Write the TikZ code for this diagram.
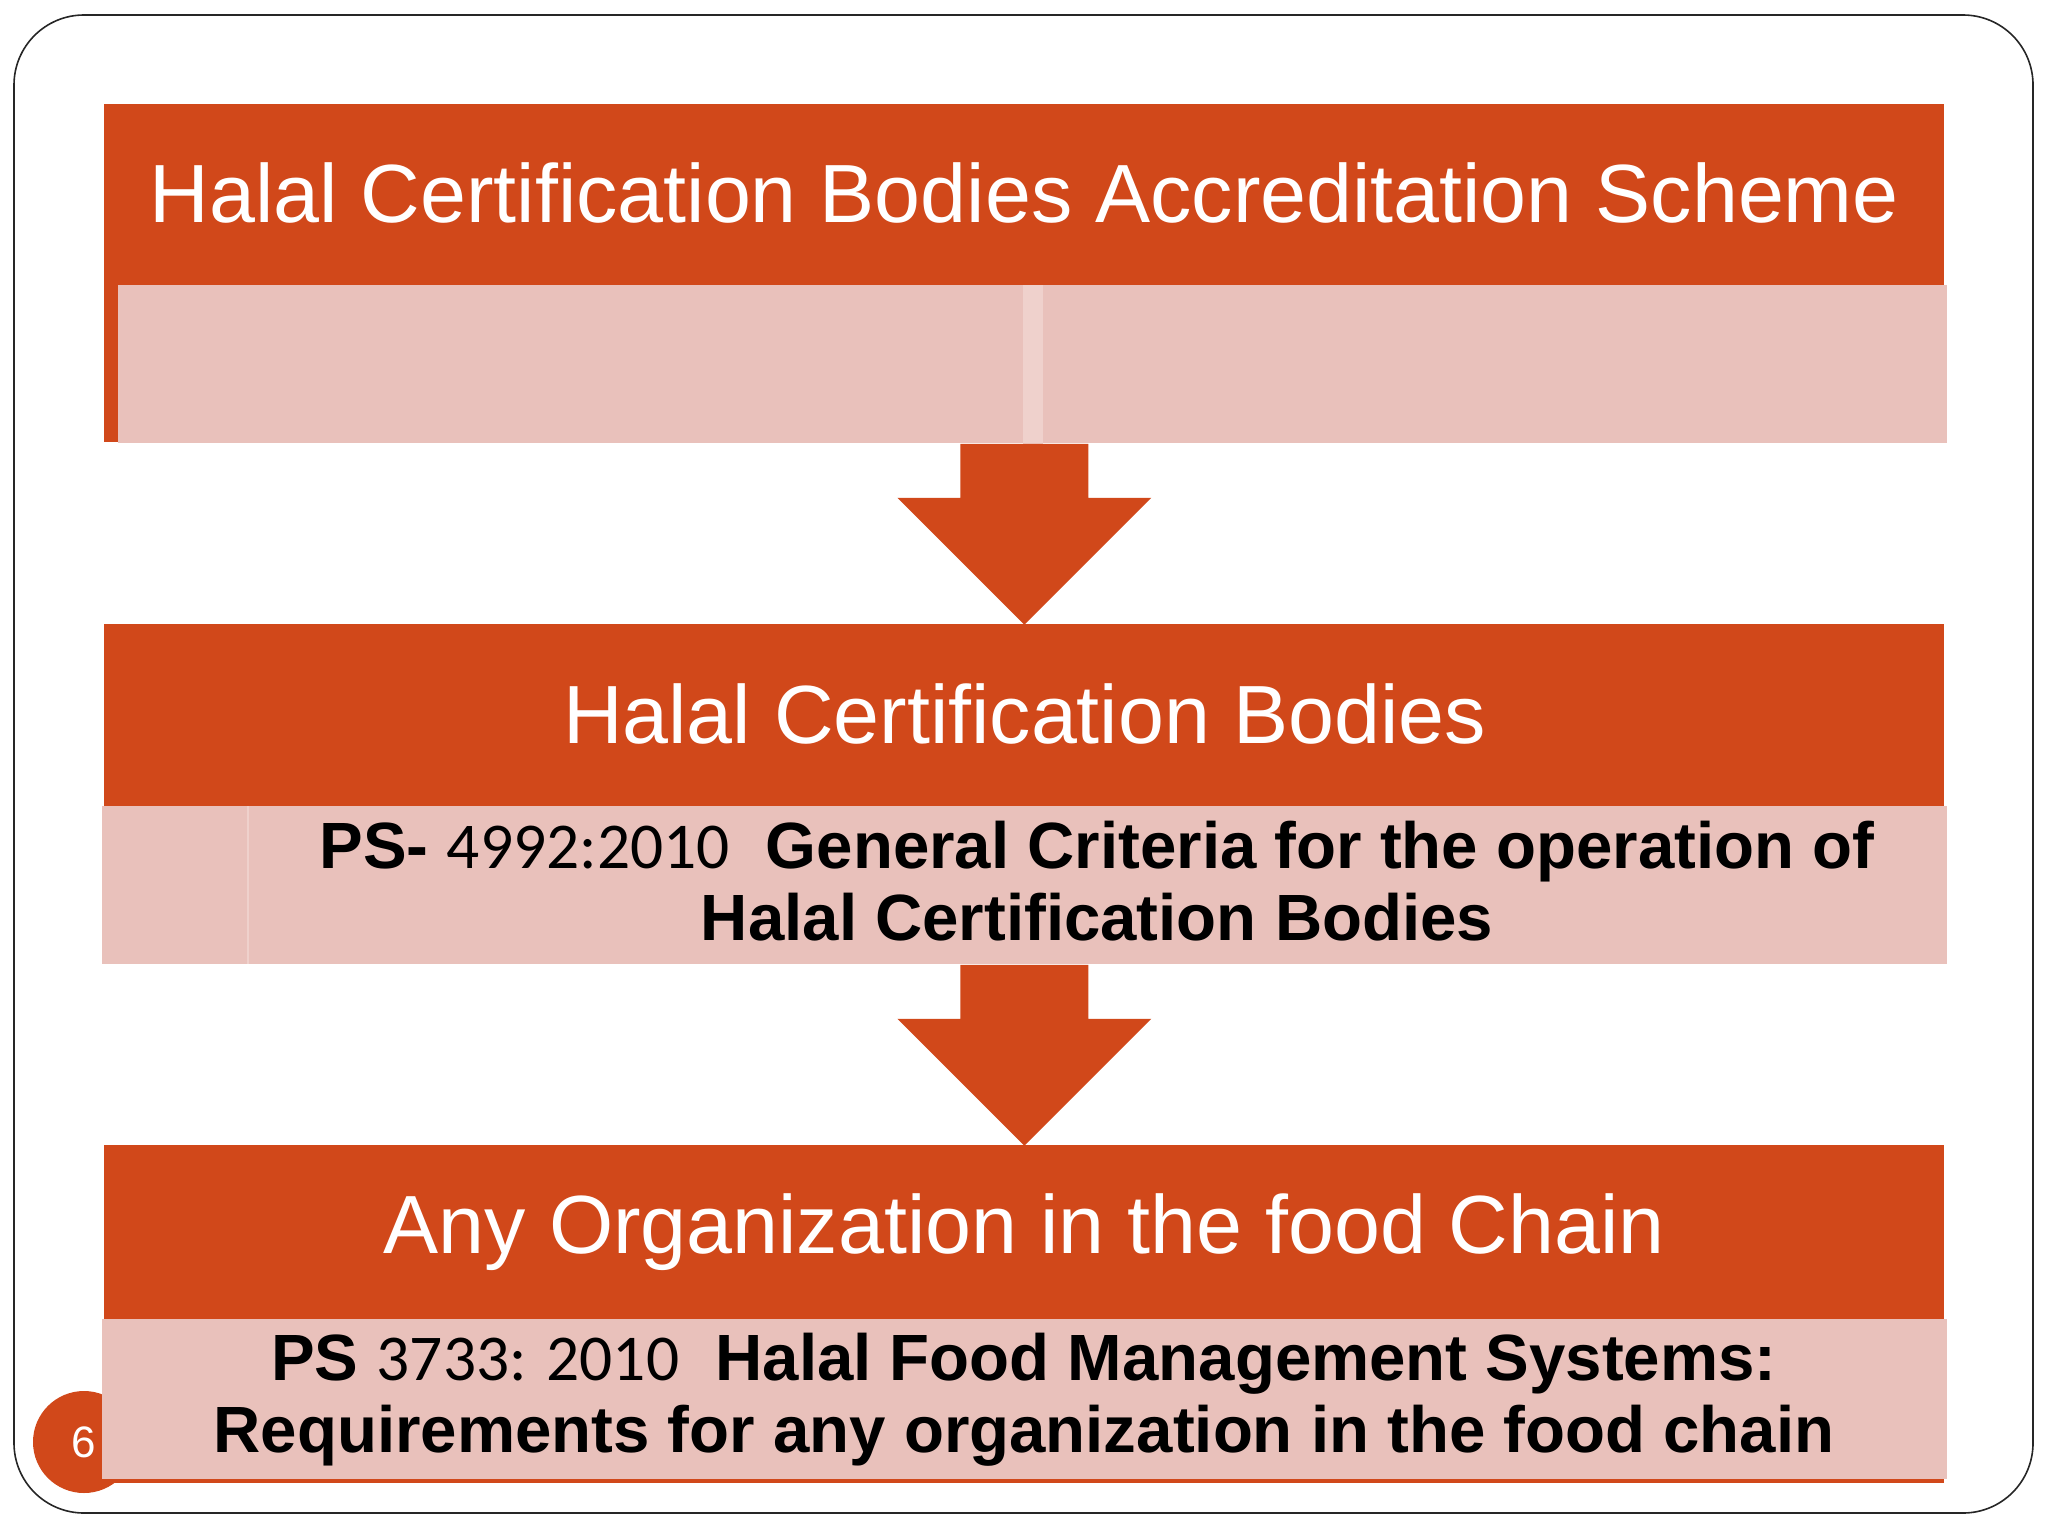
\documentclass[tikz,border=0pt]{standalone}
\usepackage{fontspec}
\setmainfont{Liberation Sans}
\newfontfamily\numfont{Carlito}
\usetikzlibrary{calc}
\definecolor{orng}{HTML}{D1481A}
\definecolor{pnk}{HTML}{E9C1BB}
\definecolor{pnklt}{HTML}{EFD1CC}
\newcommand{\flowarrow}[1]{%
  \fill[orng] (#1) ++(-64,0) -- ++(0,54) -- ++(-63,0) -- ++(127,127)
    -- ++(127,-127) -- ++(-63,0) -- ++(0,-54) -- cycle;}

\begin{document}
\begin{tikzpicture}[x=0.5pt,y=-0.5pt,
    band/.style={fill=orng,text=white,inner sep=0pt,anchor=north west,
      minimum width=920pt,font=\fontsize{41.3}{50}\selectfont},
    detail/.style={fill=pnk,inner sep=0pt,anchor=north west,minimum height=79pt},
    std/.style={align=center,inner sep=0pt,font=\fontsize{32.7}{36}\selectfont\bfseries}]
        \useasboundingbox (0,0) rectangle (2048,1536);

        \coordinate (A) at (104,104);
        \coordinate (B) at (104,624);
        \coordinate (C) at (104,1145);

        % slide frame and page number
        \draw[rounded corners=35pt,line width=0.8pt,draw=black!85] (14,15) rectangle (2033,1513);
        \node[circle,fill=orng,minimum size=51pt,inner sep=0pt,text=white,
              font=\fontsize{22}{24}\selectfont] (page) at (84,1442) {6};

        % level 1
        \fill[orng] (104,285) rectangle (118,442);
        \node[band,minimum height=90.5pt] (scheme) at (A) {\raisebox{2.5pt}{Halal Certification Bodies Accreditation Scheme}};
        \node[detail,minimum width=914.5pt] (schemeD) at (118,285) {};
        \fill[pnklt] (1023,285) rectangle (1043,444);

        % level 2
        \node[band,minimum height=91pt] (hcb) at (B) {\raisebox{2pt}{Halal Certification Bodies}};
        \node[detail,minimum width=922.5pt] (hcbD) at (102,806) {};
        \draw[pnklt,line width=1pt] (248,806) -- (248,964);
        \node[std] (ps4992) at (1097,881)
          {PS- {\numfont\mdseries 4992:2010}\ \ General Criteria for the operation of\\
           Halal Certification Bodies};

        % level 3
        \fill[orng] (104,1300) rectangle (1944,1483);
        \node[band,minimum height=87pt] (org) at (C) {\raisebox{-2pt}{Any Organization in the food Chain}};
        \node[detail,minimum width=922.5pt,minimum height=80pt] (orgD) at (102,1319) {};
        \node[std] (ps3733) at (1024,1400)
          {PS {\numfont\mdseries 3733: 2010}\ \ Halal Food Management Systems:\\
           Requirements for any organization in the food chain};

        \flowarrow{scheme.south |- schemeD.south}
        \flowarrow{hcb.south |- hcbD.south}
    \end{tikzpicture}
\end{document}
